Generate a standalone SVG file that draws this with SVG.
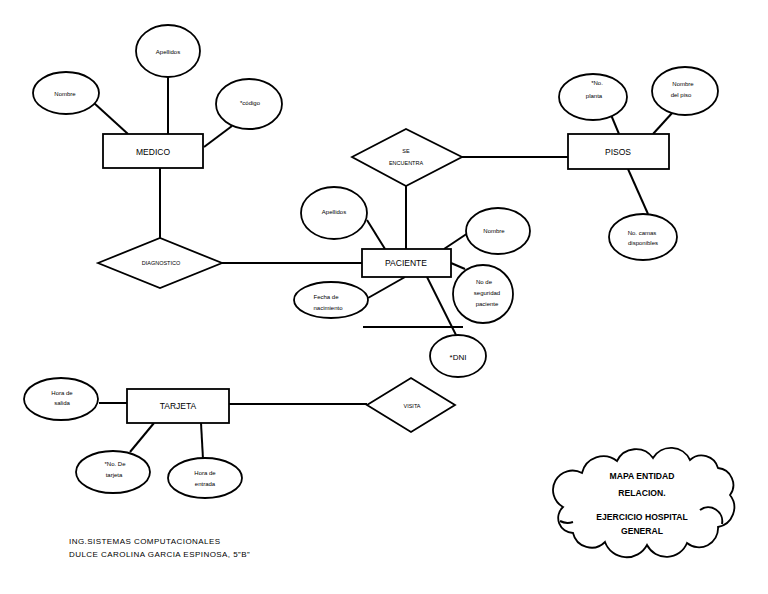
<svg xmlns="http://www.w3.org/2000/svg" width="768" height="594" viewBox="0 0 768 594">
<style>
.sh{fill:#fff;stroke:#000;stroke-width:1.8}
.ln{stroke:#000;stroke-width:2;fill:none}
text{font-family:"Liberation Sans",Arial,sans-serif;fill:#000;text-anchor:middle}
.a{font-size:6px}
.e{font-size:8.5px}
.d{font-size:5.5px}
.c{font-size:8.6px;font-weight:bold}
.f{font-size:8px;text-anchor:start;letter-spacing:0.45px}
</style>
<rect width="768" height="594" fill="#fff"/>
<g id="connectors">
<line class="ln" x1="94" y1="103" x2="128" y2="134"/>
<line class="ln" x1="168" y1="77" x2="168" y2="134"/>
<line class="ln" x1="232" y1="126" x2="204" y2="147"/>
<line class="ln" x1="160" y1="168" x2="160" y2="238"/>
<line class="ln" x1="222" y1="263" x2="362" y2="263"/>
<line class="ln" x1="406" y1="186" x2="406" y2="249"/>
<line class="ln" x1="462" y1="157" x2="568" y2="157"/>
<line class="ln" x1="609" y1="110" x2="619" y2="134"/>
<line class="ln" x1="673" y1="112" x2="653" y2="134"/>
<line class="ln" x1="628" y1="169" x2="648" y2="214"/>
<line class="ln" x1="367" y1="220" x2="385" y2="249"/>
<line class="ln" x1="444" y1="249" x2="468" y2="233"/>
<line class="ln" x1="451" y1="263" x2="465" y2="269"/>
<line class="ln" x1="368" y1="298" x2="405" y2="277"/>
<line class="ln" x1="427" y1="277" x2="456" y2="335"/>
<line class="ln" x1="363" y1="327" x2="463" y2="327" stroke-width="2.4"/>
<line class="ln" x1="99" y1="403" x2="127" y2="403"/>
<line class="ln" x1="154" y1="423" x2="130" y2="452"/>
<line class="ln" x1="201" y1="423" x2="203" y2="459"/>
<line class="ln" x1="229" y1="404" x2="367" y2="404"/>
</g>
<g id="medico"><rect class="sh" x="103" y="134" width="100" height="34"/><text class="e" x="153" y="155">MEDICO</text></g>
<g id="medico-apellidos"><ellipse class="sh" cx="168" cy="51" rx="32" ry="26"/><text class="a" x="168" y="54">Apellidos</text></g>
<g id="medico-nombre"><ellipse class="sh" cx="66" cy="93" rx="33" ry="21"/><text class="a" x="65" y="96">Nombre</text></g>
<g id="medico-codigo"><ellipse class="sh" cx="249" cy="104" rx="33" ry="25"/><text class="a" x="250" y="105">*código</text></g>
<g id="diagnostico"><polygon class="sh" points="98,263 160,238 222,263 160,288"/><text class="d" x="161" y="265">DIAGNOSTICO</text></g>
<g id="paciente"><rect class="sh" x="362" y="249" width="89" height="28"/><text class="e" x="406" y="266">PACIENTE</text></g>
<g id="paciente-apellidos"><ellipse class="sh" cx="334" cy="213" rx="33" ry="26"/><text class="a" x="334" y="214">Apellidos</text></g>
<g id="paciente-nombre"><ellipse class="sh" cx="498" cy="231" rx="32" ry="23"/><text class="a" x="494" y="233">Nombre</text></g>
<g id="paciente-seguridad"><ellipse class="sh" cx="483" cy="294" rx="30" ry="29"/><text class="a" x="484" y="284">No de</text><text class="a" x="487" y="295">seguridad</text><text class="a" x="487" y="306">paciente</text></g>
<g id="paciente-fecha"><ellipse class="sh" cx="331" cy="300" rx="37" ry="18"/><text class="a" x="326" y="299">Fecha de</text><text class="a" x="328" y="310">nacimiento</text></g>
<g id="paciente-dni"><ellipse class="sh" cx="458" cy="356" rx="28" ry="21"/><text style="font-size:8px" x="458" y="360">*DNI</text></g>
<g id="se-encuentra"><polygon class="sh" points="352,157 406,129 462,157 406,186"/><text class="d" x="406" y="153">SE</text><text class="d" x="406" y="165">ENCUENTRA</text></g>
<g id="pisos"><rect class="sh" x="568" y="134" width="101" height="35"/><text class="e" x="618" y="155">PISOS</text></g>
<g id="pisos-planta"><ellipse class="sh" cx="593" cy="97" rx="34" ry="23"/><text class="a" x="597" y="85">*No.</text><text class="a" x="594" y="98">planta</text></g>
<g id="pisos-nombre"><ellipse class="sh" cx="685" cy="91" rx="33" ry="24"/><text class="a" x="683" y="86">Nombre</text><text class="a" x="681" y="97">del piso</text></g>
<g id="pisos-camas"><ellipse class="sh" cx="643" cy="237" rx="34" ry="23"/><text class="a" x="642" y="235">No. camas</text><text class="a" x="643" y="245">disponibles</text></g>
<g id="tarjeta"><rect class="sh" x="127" y="389" width="102" height="34"/><text class="e" x="178" y="409">TARJETA</text></g>
<g id="tarjeta-salida"><ellipse class="sh" cx="61" cy="399" rx="37" ry="21"/><text class="a" x="62" y="395">Hora de</text><text class="a" x="62" y="405">salida</text></g>
<g id="tarjeta-no"><ellipse class="sh" cx="113" cy="472" rx="37" ry="21"/><text class="a" x="115" y="466">*No. De</text><text class="a" x="114" y="477">tarjeta</text></g>
<g id="tarjeta-entrada"><ellipse class="sh" cx="205" cy="478" rx="37" ry="20"/><text class="a" x="205" y="475">Hora de</text><text class="a" x="205" y="486">entrada</text></g>
<g id="visita"><polygon class="sh" points="367,405 411,378 455,405 411,432"/><text class="d" x="412" y="408">VISITA</text></g>
<g id="cloud">
<path class="sh" d="M582,473 A22,22 0 0 1 617,461 A21,21 0 0 1 653,458 A21,21 0 0 1 690,460 A17,17 0 0 1 718,468 A17,17 0 0 1 730,495 A20,20 0 0 1 718,527 A19,19 0 0 1 687,543 A22,22 0 0 1 647,545 A23,23 0 0 1 605,542 A19,19 0 0 1 573,533 A15,15 0 0 1 563,507 A17,17 0 0 1 582,473 Z"/>
<path class="ln" stroke-width="1.6" d="M700,510 A14,14 0 0 1 722,524"/>
<path class="ln" stroke-width="1.6" d="M560,521 A12,8 0 0 0 573,522"/>
<text class="c" x="642" y="479">MAPA ENTIDAD</text>
<text class="c" x="642" y="496">RELACION.</text>
<text class="c" x="642" y="520">EJERCICIO HOSPITAL</text>
<text class="c" x="642" y="534">GENERAL</text>
</g>
<g id="footer"><text class="f" x="69" y="544">ING.SISTEMAS COMPUTACIONALES</text><text class="f" x="69" y="557">DULCE CAROLINA GARCIA ESPINOSA, 5”B”</text></g>
</svg>
